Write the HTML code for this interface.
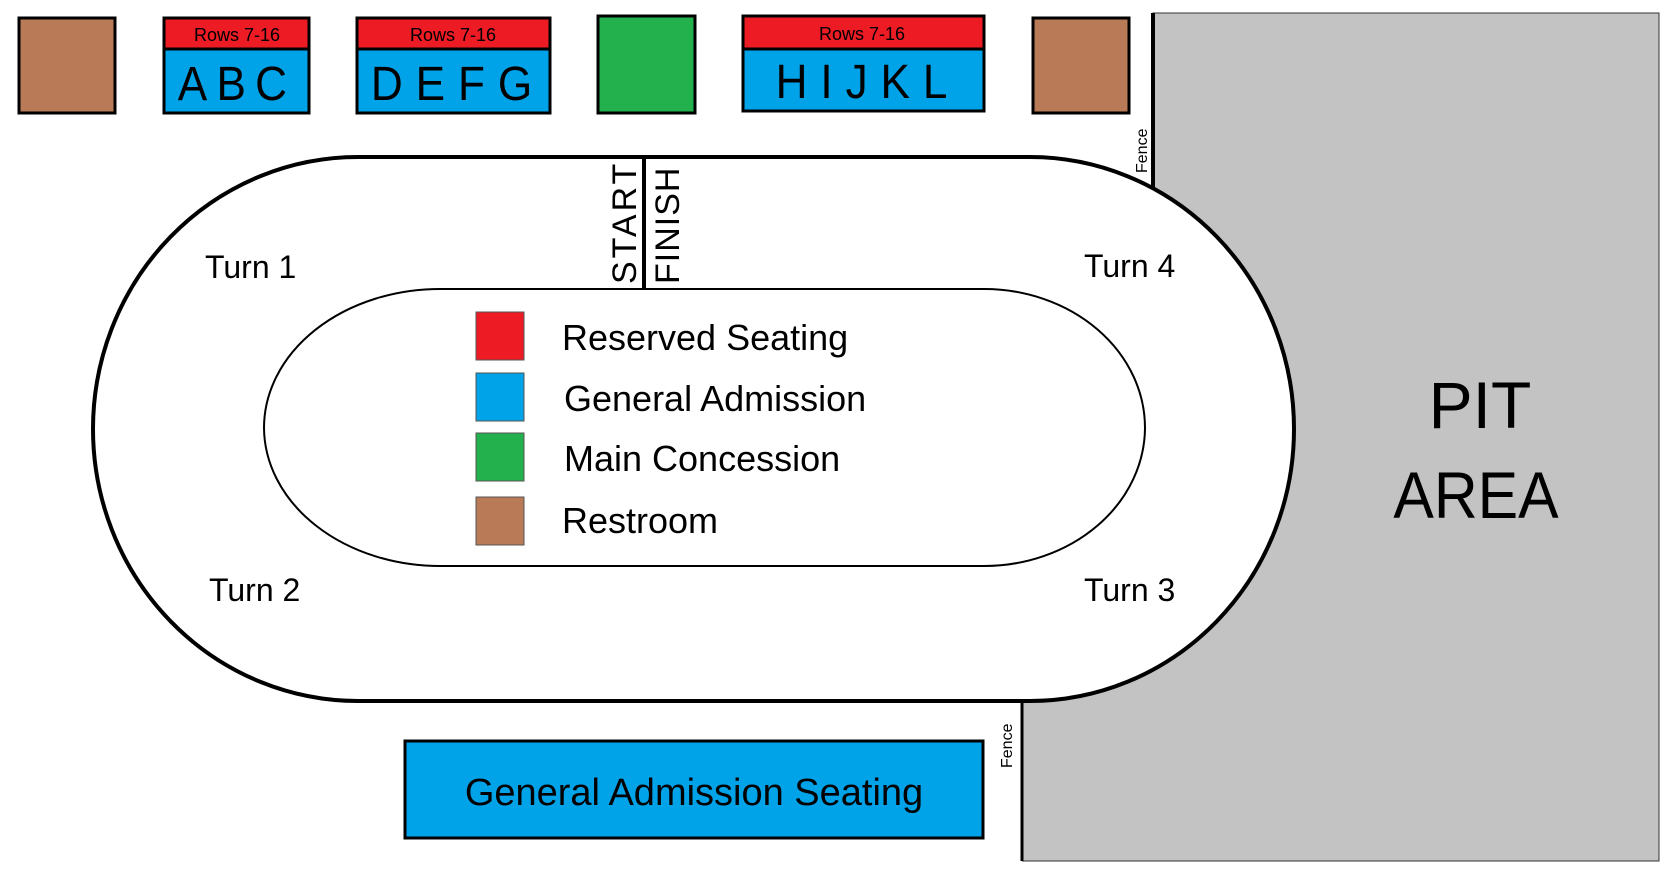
<!DOCTYPE html>
<html><head><meta charset="utf-8"><style>
html,body{margin:0;padding:0;background:#fff;}
svg{display:block;}
text{font-family:"Liberation Sans",sans-serif;fill:#000;}
</style></head><body>
<svg width="1666" height="876" viewBox="0 0 1666 876" xmlns="http://www.w3.org/2000/svg">
<rect x="0" y="0" width="1666" height="876" fill="#fff"/>
<!-- pit area -->
<rect x="1153" y="13" width="506" height="848" fill="#c3c3c3" stroke="#333" stroke-width="1"/>
<rect x="1022" y="500" width="140" height="361" fill="#c3c3c3"/>
<line x1="1022" y1="861" x2="1659" y2="861" stroke="#333" stroke-width="1"/>
<line x1="1153" y1="13" x2="1153" y2="190" stroke="#000" stroke-width="4"/>
<line x1="1022" y1="695" x2="1022" y2="861" stroke="#000" stroke-width="3"/>
<!-- track outer -->
<path d="M358,157 L1030,157 A264,272 0 0 1 1294,429 A264,272 0 0 1 1030,701 L358,701 A265,272 0 0 1 93,429 A265,272 0 0 1 358,157 Z" fill="#fff" stroke="#000" stroke-width="4"/>
<!-- inner -->
<path d="M440,289 L984,289 A161,139 0 0 1 1145,428 A161,139 0 0 1 984,566 L440,566 A176,139 0 0 1 264,428 A176,139 0 0 1 440,289 Z" fill="#fff" stroke="#000" stroke-width="2"/>
<!-- start/finish -->
<line x1="644" y1="157" x2="644" y2="289" stroke="#000" stroke-width="4"/>
<text transform="translate(636,284) rotate(-90)" font-size="34" letter-spacing="3">START</text>
<text transform="translate(679,284) rotate(-90)" font-size="34" letter-spacing="1">FINISH</text>
<!-- top boxes -->
<rect x="19" y="18" width="96" height="95" fill="#b97a57" stroke="#000" stroke-width="3"/>
<rect x="164" y="18" width="145" height="95" fill="#00a2e8" stroke="#000" stroke-width="3"/>
<rect x="164" y="18" width="145" height="31" fill="#ed1c24" stroke="#000" stroke-width="3"/>
<text x="237" y="41" font-size="18" text-anchor="middle">Rows  7-16</text>
<text x="237" y="100" font-size="48" text-anchor="middle" letter-spacing="10" transform="translate(237,0) scale(0.92,1) translate(-237,0)">ABC</text>
<rect x="357" y="18" width="193" height="95" fill="#00a2e8" stroke="#000" stroke-width="3"/>
<rect x="357" y="18" width="193" height="31" fill="#ed1c24" stroke="#000" stroke-width="3"/>
<text x="453" y="41" font-size="18" text-anchor="middle">Rows  7-16</text>
<text x="458" y="100" font-size="48" text-anchor="middle" letter-spacing="14" transform="translate(458,0) scale(0.92,1) translate(-458,0)">DEFG</text>
<rect x="743" y="16" width="241" height="95" fill="#00a2e8" stroke="#000" stroke-width="3"/>
<rect x="743" y="16" width="241" height="33" fill="#ed1c24" stroke="#000" stroke-width="3"/>
<text x="862" y="40" font-size="18" text-anchor="middle">Rows  7-16</text>
<text x="868" y="98" font-size="48" text-anchor="middle" letter-spacing="14" transform="translate(868,0) scale(0.92,1) translate(-868,0)">HIJKL</text>
<rect x="598" y="16" width="97" height="97" fill="#22b14c" stroke="#000" stroke-width="3"/>
<rect x="1033" y="18" width="96" height="95" fill="#b97a57" stroke="#000" stroke-width="3"/>
<text transform="translate(1147,173) rotate(-90)" font-size="16">Fence</text>
<text transform="translate(1012,768) rotate(-90)" font-size="16">Fence</text>
<!-- turns -->
<text x="205" y="278" font-size="32">Turn 1</text>
<text x="1084" y="277" font-size="32">Turn 4</text>
<text x="209" y="601" font-size="32">Turn 2</text>
<text x="1084" y="601" font-size="32">Turn 3</text>
<!-- legend -->
<rect x="476" y="312" width="48" height="48" fill="#ed1c24" stroke="#555" stroke-width="1"/>
<rect x="476" y="373" width="48" height="48" fill="#00a2e8" stroke="#555" stroke-width="1"/>
<rect x="476" y="433" width="48" height="48" fill="#22b14c" stroke="#555" stroke-width="1"/>
<rect x="476" y="497" width="48" height="48" fill="#b97a57" stroke="#555" stroke-width="1"/>
<text x="562" y="350" font-size="36">Reserved Seating</text>
<text x="564" y="411" font-size="36">General Admission</text>
<text x="564" y="471" font-size="36">Main Concession</text>
<text x="562" y="533" font-size="36">Restroom</text>
<!-- pit text -->
<text x="1480" y="428" font-size="66" text-anchor="middle">PIT</text>
<text x="1476" y="518" font-size="66" text-anchor="middle" transform="translate(1476,0) scale(0.92,1) translate(-1476,0)">AREA</text>
<!-- GA seating -->
<rect x="405" y="741" width="578" height="97" fill="#00a2e8" stroke="#000" stroke-width="3"/>
<text x="694" y="805" font-size="38" text-anchor="middle">General Admission Seating</text>
</svg>
</body></html>
